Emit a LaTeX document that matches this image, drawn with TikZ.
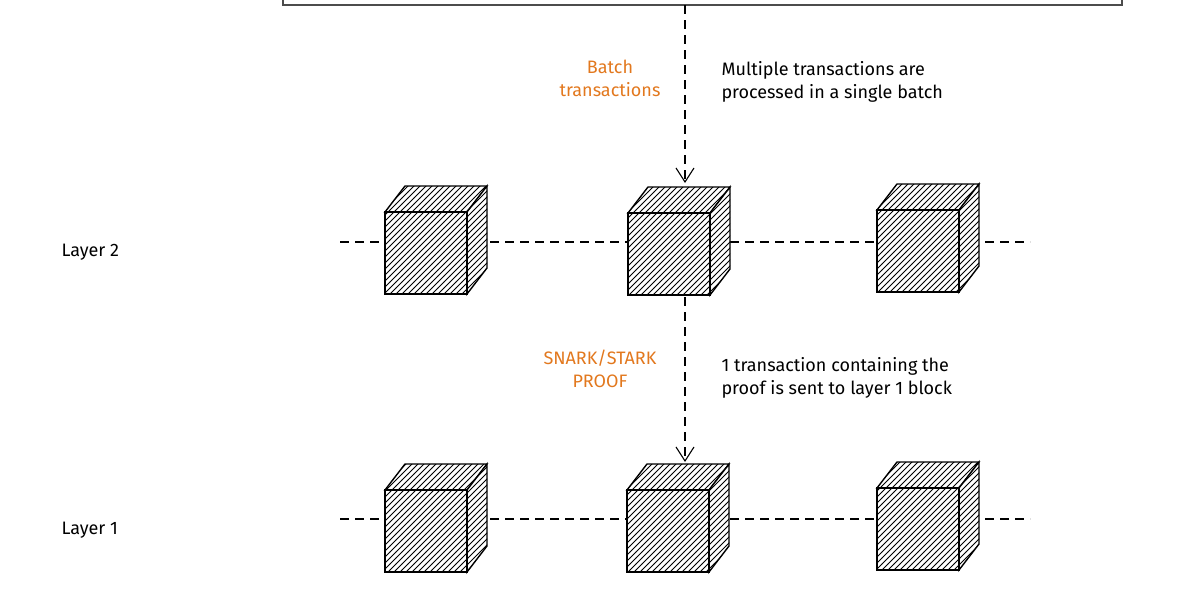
\documentclass[tikz,border=0pt]{standalone}
\usepackage{fontspec}
\setmainfont{Fira Sans}
\usetikzlibrary{patterns,arrows.meta}
\definecolor{org}{RGB}{226,120,30}
\pgfdeclarepatternformonly{hatch}{\pgfqpoint{-1pt}{-1pt}}{\pgfqpoint{7pt}{7pt}}{\pgfqpoint{6pt}{6pt}}{%
 \pgfsetlinewidth{0.8pt}
 \pgfpathmoveto{\pgfqpoint{0pt}{0pt}}\pgfpathlineto{\pgfqpoint{6.1pt}{6.1pt}}\pgfusepath{stroke}}
\tikzset{
 dash line/.style={dashed,dash pattern=on 9pt off 6pt,line width=1.1pt},
 lbl/.style={font=\fontsize{18}{23}\selectfont,align=left,anchor=west},
 olbl/.style={font=\fontsize{18}{23}\selectfont,align=center,text=org},
 face/.style={draw,line width=1.4pt,fill=white,postaction={pattern=hatch}}
}
\newcommand{\cube}[3]{% name, x, y of front top-left
 \begin{scope}[shift={(#2,#3)}]
 \path[face] (0,0)--(20,-26)--(102,-26)--(82,0)--cycle;
 \path[face] (82,0)--(102,-26)--(102,56)--(82,82)--cycle;
 \path[face] (0,0) rectangle (82,82);
 \end{scope}}
\begin{document}
\begin{tikzpicture}[x=1pt,y=-1pt]
\useasboundingbox (0,0) rectangle (1200,600);
\draw[line width=1.5pt,gray!60!black] (283,-2)--(283,5)--(1122,5)--(1122,-2);
\coordinate (topc) at (685,5);
\draw[dash line] (340,242)--(1030,242);
\draw[dash line] (340,519)--(1030,519);
\cube{a}{385}{212}
\cube{b}{628}{213}
\cube{c}{877}{210}
\cube{d}{385}{490}
\cube{e}{627}{490}
\cube{f}{877}{488}
\coordinate (bt) at (685,183);
\coordinate (et) at (685,462);
\coordinate (bb) at (685,297);
\draw[dash line,-{Straight Barb[length=14pt,width=18pt]}] (topc)--(bt);
\draw[dash line,-{Straight Barb[length=14pt,width=18pt]}] (bb)--(et);
\node[olbl] (bl) at (610,78) {Batch\\transactions};
\node[lbl] (ml) at (718,82) {Multiple transactions are\\processed in a single batch};
\node[olbl] (sl) at (600,369) {SNARK/STARK\\PROOF};
\node[lbl] (pl) at (718,378) {1 transaction containing the\\proof is sent to layer 1 block};
\node[lbl] (l2) at (58,252) {Layer 2};
\node[lbl] (l1) at (58,530) {Layer 1};
\end{tikzpicture}
\end{document}
